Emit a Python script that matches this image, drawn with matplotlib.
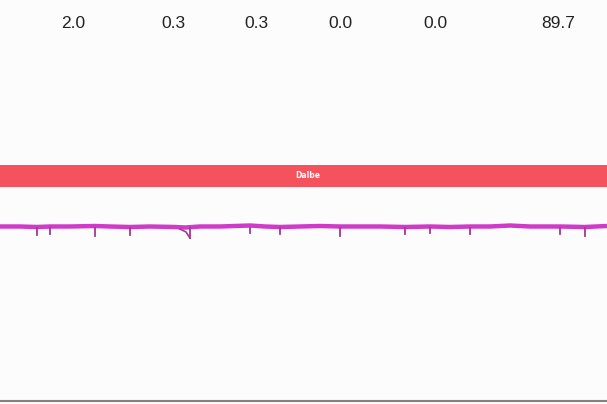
import numpy as np
import matplotlib.pyplot as plt

# top row readings
top_values = [2.0, 0.3, 0.3, 0.0, 0.0, 89.7]
top_x = [73, 173, 256, 340, 435, 558]

# red band
band_label = 'Dalbe'
band_top, band_bottom = 165, 187

# magenta trace (x, y)
trace_x = [0, 20, 37, 50, 70, 95, 110, 130, 150, 175, 185, 200, 220,
           250, 265, 280, 300, 320, 340, 360, 380, 405, 430, 450, 470,
           490, 510, 530, 560, 585, 607]
trace_y = [226.5, 226.5, 227, 226.5, 226.5, 226, 226.5, 227, 226.5, 227, 227.5, 226.5, 226.5,
           225.5, 226.5, 227, 226.5, 226, 226.5, 226.5, 226.5, 227, 226.5, 227, 226.5,
           226.5, 225.5, 226.5, 226.5, 227, 226]

# small downward spikes under the trace
spike_x = [37, 50, 95, 130, 190, 250, 280, 340, 405, 430, 470, 560, 585]
spike_len = [7, 6, 8, 7, 10, 5, 6, 8, 6, 5, 6, 6, 8]

fig = plt.figure(figsize=(6.07, 4.04), dpi=100)
fig.patch.set_facecolor('#fcfcfc')
ax = fig.add_axes([0, 0, 1, 1])
ax.set_facecolor('#fcfcfc')
ax.set_xlim(0, 607)
ax.set_ylim(404, 0)
ax.axis('off')

for x, v in zip(top_x, top_values):
    ax.text(x, 23, f'{v:.1f}', ha='center', va='center', fontsize=12.5,
            color='#222222', family='Liberation Sans')

ax.fill_between([0, 607], band_top, band_bottom, color='#f4525c', lw=0)
ax.text(308, 176, band_label, ha='center', va='center', fontsize=5.5,
        color='white', fontweight='bold')

ax.plot(trace_x, trace_y, color='#d03ac8', lw=3.2, solid_capstyle='butt')
for x, l in zip(spike_x, spike_len):
    ax.plot([x, x], [228, 228 + l], color='#a03a90', lw=1.3)
ax.plot([180, 186, 190], [229, 232, 238], color='#a03a90', lw=1.2)

ax.plot([0, 607], [401, 401], color='#8a7f7f', lw=1.5)

fig.savefig('out.png', dpi=100, facecolor=fig.get_facecolor())
